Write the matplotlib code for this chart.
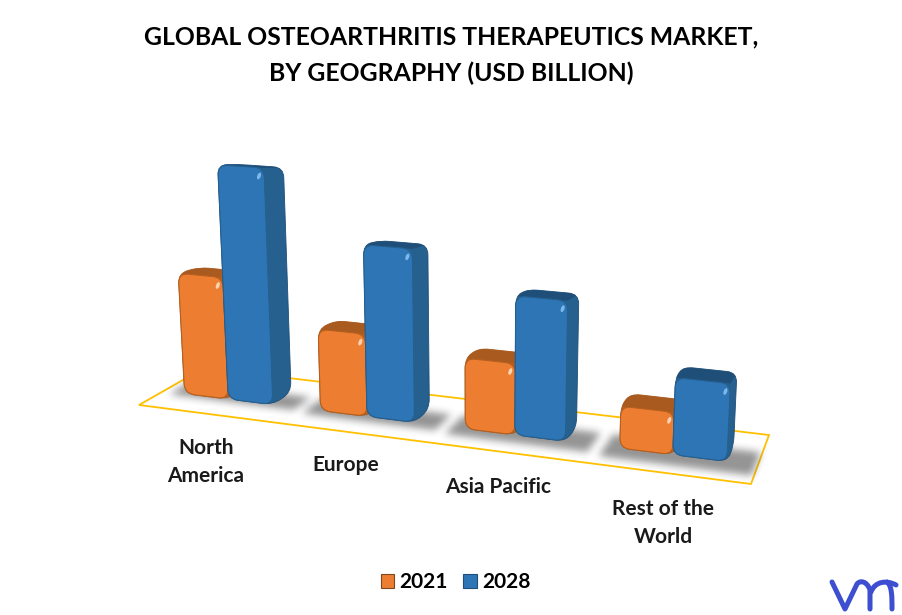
import numpy as np
from matplotlib import pyplot as plt
from matplotlib.path import Path
from matplotlib.patches import PathPatch, Polygon, Ellipse, Patch

plt.rcParams['font.family'] = ['Lato', 'DejaVu Sans']

title = "GLOBAL OSTEOARTHRITIS THERAPEUTICS MARKET,\nBY GEOGRAPHY (USD BILLION)"
categories = ["North\nAmerica", "Europe", "Asia Pacific", "Rest of the\nWorld"]
years = ["2021", "2028"]
values_2021 = [2.47, 1.62, 1.36, 0.78]
values_2028 = [4.76, 3.38, 2.65, 1.42]

# colours: front, side, top, highlight
orange = ('#ED7D31', '#B5601F', '#A85A1F', '#FBD3B0')
blue = ('#2E75B6', '#25608F', '#1F4E79', '#7DB8EC')

# floor corners in pixels, front left / front right / back right / back left
floor = [(139, 405), (751, 484), (769, 435), (204, 368)]
g, h = -0.1257, 0.0872
a, b, c = 517.6, 82.8, 139
d, e, f = 18.2, -4.9, 405

bar_w = 0.082
v_front = 0.36
v_back = 0.68
px_per_unit = 50


def project(u, v, val=0.0):
    # floor point (u, v) lifted by val, returns pixel position
    w = g*u + h*v + 1
    x = (a*u + b*v + c)/w
    y = (d*u + e*v + f)/w
    rise = val*px_per_unit/(w + 0.08*(v - v_front))
    return x + rise*(x - 480)*0.00018, y - rise


def rounded(pts, r):
    # closed path through pts with rounded corners
    pts = np.array(pts, dtype=float)
    n = len(pts)
    verts, codes = [], []
    for i in range(n):
        p = pts[i]
        prev = pts[i-1]
        nxt = pts[(i+1) % n]
        r1 = min(r, np.linalg.norm(prev-p)*0.45)
        r2 = min(r, np.linalg.norm(nxt-p)*0.45)
        p1 = p + (prev-p)/np.linalg.norm(prev-p)*r1
        p2 = p + (nxt-p)/np.linalg.norm(nxt-p)*r2
        verts.append(p1)
        codes.append(Path.MOVETO if i == 0 else Path.LINETO)
        verts += [p, p2]
        codes += [Path.CURVE3, Path.CURVE3]
    verts.append(verts[0])
    codes.append(Path.CLOSEPOLY)
    return Path(verts, codes)


def draw_bar(ax, u0, val, colours, zo):
    front, side, top, light = colours
    u1 = u0 + bar_w
    fl, fr = project(u0, v_front), project(u1, v_front)
    br = project(u1, v_back)
    tfl, tfr = project(u0, v_front, val), project(u1, v_front, val)
    tbr, tbl = project(u1, v_back, val), project(u0, v_back, val)

    r = 10
    hull = rounded([fl, fr, br, tbr, tbl, tfl], r)
    hull_patch = PathPatch(hull, fc=side, ec=top, lw=0.6, zorder=zo)
    ax.add_patch(hull_patch)
    top_face = Polygon([tfl, tfr, tbr, tbl], closed=True, fc=top, ec='none', zorder=zo+0.1)
    ax.add_patch(top_face)
    top_face.set_clip_path(hull_patch)
    ax.add_patch(PathPatch(rounded([fl, fr, tfr, tfl], r), fc=front, ec=side, lw=0.8, zorder=zo+0.2))
    ax.add_patch(Ellipse((tfr[0]-5, tfr[1]+8), 3.5, 7, angle=20, fc=light, ec='none', zorder=zo+0.3))


fig = plt.figure(figsize=(9.02, 6.15), dpi=100)
ax = fig.add_axes([0, 0, 1, 1])
ax.set_xlim(0, 902)
ax.set_ylim(615, 0)
ax.axis('off')

centers = [0.122 + 0.25*i for i in range(len(categories))]

# floor outline
ax.add_patch(Polygon(floor, closed=True, fc='none', ec='#FFC000', lw=1.3, zorder=1))

# soft shadows under each group
yy, xx = np.mgrid[0:615, 0:902]
grid = np.column_stack([xx.ravel()+0.5, yy.ravel()+0.5])
mask = np.zeros(xx.shape)
for uc in centers:
    v_low = 0.33 - 0.2*uc
    corners = [project(uc-0.105, v_low), project(uc+0.125, v_low),
               project(uc+0.125, 0.62), project(uc-0.105, 0.62)]
    mask = np.maximum(mask, Path(corners).contains_points(grid).reshape(xx.shape).astype(float))
kernel = np.ones(9)/9
for _ in range(2):
    mask = np.apply_along_axis(lambda s: np.convolve(s, kernel, mode='same'), 0, mask)
    mask = np.apply_along_axis(lambda s: np.convolve(s, kernel, mode='same'), 1, mask)
shadow = np.zeros(xx.shape + (4,))
shadow[..., :3] = 0.33
shadow[..., 3] = mask*0.62
ax.imshow(shadow, extent=(0, 902, 615, 0), origin='upper', aspect='auto', zorder=2, interpolation='bilinear')
ax.set_xlim(0, 902)
ax.set_ylim(615, 0)

# bars, left group first, 2028 in front of 2021
for i, uc in enumerate(centers):
    draw_bar(ax, uc-bar_w, values_2021[i], orange, 3+i)
    draw_bar(ax, uc, values_2028[i], blue, 3.5+i)

ax.text(451, 55, title, ha='center', va='center', fontsize=17.8, fontweight='bold', color='black', linespacing=1.68)

label_xy = [(206, 462), (346, 465), (498, 487), (663, 523)]
for name, (lx, ly) in zip(categories, label_xy):
    ax.text(lx, ly, name, ha='center', va='center', fontsize=15, fontweight='bold', color='#1A1A1A', linespacing=1.46)

handles = [Patch(fc=orange[0], ec='#7F4A22', lw=0.8), Patch(fc=blue[0], ec='#1F4E79', lw=0.8)]
ax.legend(handles, years, ncol=2, loc='center', bbox_to_anchor=(455.5, 582), bbox_transform=ax.transData,
          frameon=False, handlelength=0.66, handleheight=0.66, handletextpad=0.25, columnspacing=0.72,
          prop={'size': 15, 'weight': 'bold'})

# logo
logo_v = Path([(832, 582), (845, 609), (857, 584), (860, 580), (867, 581), (870, 590), (870, 609)],
              [Path.MOVETO, Path.LINETO, Path.LINETO, Path.CURVE4, Path.CURVE4, Path.CURVE4, Path.LINETO])
logo_m = Path([(871, 592), (875, 581), (887, 580), (896, 585)],
              [Path.MOVETO, Path.CURVE4, Path.CURVE4, Path.CURVE4])
logo_r = Path([(887, 582), (892, 586), (892, 596), (892, 609)],
              [Path.MOVETO, Path.CURVE4, Path.CURVE4, Path.CURVE4])
for p in (logo_v, logo_m, logo_r):
    ax.add_patch(PathPatch(p, fc='none', ec='#3D4FD0', lw=3.6, capstyle='round', joinstyle='round', zorder=8))

fig.savefig('out.png', dpi=100)
